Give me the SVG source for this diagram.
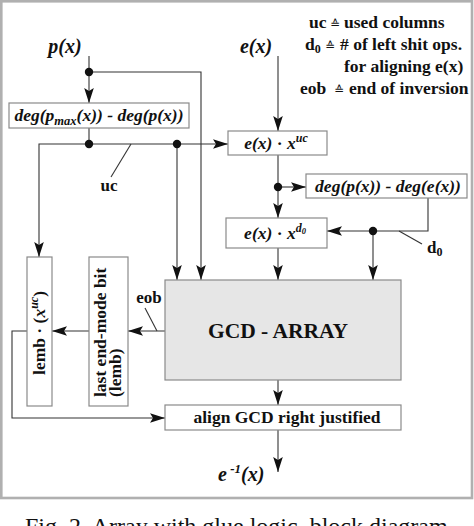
<svg xmlns="http://www.w3.org/2000/svg" width="474" height="526" viewBox="0 0 474 526">
<style>
.t{font-family:"Liberation Serif","DejaVu Serif",serif;font-weight:bold;fill:#111;}
.i{font-style:italic;}
.box{fill:#fff;stroke:#8a8a8a;stroke-width:1.2;}
.ln{fill:none;stroke:#333;stroke-width:1.1;}
.sym{font-family:"DejaVu Sans","Noto Sans",sans-serif;font-weight:normal;font-size:12px;}
</style>
<defs>
<marker id="ah" viewBox="-16 -6 17 12" refX="0" refY="0" markerWidth="17" markerHeight="12" markerUnits="userSpaceOnUse" orient="auto">
<path d="M0,0 L-15,-4.8 L-12,0 L-15,4.8 Z" fill="#111"/>
</marker>
</defs>
<rect x="0" y="0" width="474" height="526" fill="#fff"/>
<rect x="1.3" y="1.3" width="470.7" height="496.7" fill="#fff" stroke="#b0b0b0" stroke-width="2.6"/>

<g id="connectors">
<path class="ln" d="M89,56 V103" marker-end="url(#ah)"/>
<path class="ln" d="M89,72 H201 V280" marker-end="url(#ah)"/>
<path class="ln" d="M89,128 V144 H228" marker-end="url(#ah)"/>
<path class="ln" d="M89,144 H39 V257" marker-end="url(#ah)"/>
<path class="ln" d="M177,144 V280" marker-end="url(#ah)"/>
<path class="ln" d="M131,144 L111,177"/>
<path class="ln" d="M278,56 V131" marker-end="url(#ah)"/>
<path class="ln" d="M278,155 V218" marker-end="url(#ah)"/>
<path class="ln" d="M278,187 H306" marker-end="url(#ah)"/>
<path class="ln" d="M428,198 V231 H327" marker-end="url(#ah)"/>
<path class="ln" d="M373,231 V280" marker-end="url(#ah)"/>
<path class="ln" d="M399,231 L422,244"/>
<path class="ln" d="M278,248 V280" marker-end="url(#ah)"/>
<path class="ln" d="M165,331 H128" marker-end="url(#ah)"/>
<path class="ln" d="M157,331 L145,308"/>
<path class="ln" d="M89,331 H52" marker-end="url(#ah)"/>
<path class="ln" d="M27,331 H12 V418 H165" marker-end="url(#ah)"/>
<path class="ln" d="M278,380 V405" marker-end="url(#ah)"/>
<path class="ln" d="M278,430 V472" marker-end="url(#ah)"/>
<g fill="#111">
<circle cx="89" cy="72" r="4.2"/>
<circle cx="89" cy="144" r="4.2"/>
<circle cx="177" cy="144" r="4.2"/>
<circle cx="278" cy="187" r="4.2"/>
<circle cx="373" cy="231" r="4.2"/>
</g>
<text class="t" x="109" y="191" font-size="17" text-anchor="middle">uc</text>
<text class="t" x="427" y="253" font-size="17">d<tspan font-size="12" dy="3">0</tspan></text>
<text class="t" x="149" y="303" font-size="17" text-anchor="middle">eob</text>
</g>

<g id="input-p">
<text class="t i" x="65" y="53" font-size="20" text-anchor="middle">p(x)</text>
</g>
<g id="input-e">
<text class="t i" x="256" y="53" font-size="20" text-anchor="middle">e(x)</text>
</g>

<g id="legend">
<text class="t" font-size="17.5" y="28"><tspan x="309">uc</tspan><tspan class="sym" x="330">≙</tspan><tspan x="344">used columns</tspan></text>
<text class="t" font-size="17.5" y="50"><tspan x="305">d</tspan><tspan font-size="12" dy="3">0</tspan><tspan class="sym" x="325" dy="-3">≙</tspan><tspan x="340"># of left shit ops.</tspan></text>
<text class="t" font-size="17.5" y="72" x="344">for aligning e(x)</text>
<text class="t" font-size="17.5" y="94"><tspan x="300">eob</tspan><tspan class="sym" x="334">≙</tspan><tspan x="349">end of inversion</tspan></text>
</g>

<g id="node-degpmax">
<rect class="box" x="9" y="103" width="180" height="25"/>
<text class="t i" x="99" y="121" font-size="17.5" text-anchor="middle">deg(p<tspan font-size="12.5" dy="4">max</tspan><tspan dy="-4">(x)) - deg(p(x))</tspan></text>
</g>

<g id="node-exuc">
<rect class="box" x="228" y="131" width="99" height="24"/>
<text class="t i" x="276" y="149" font-size="17.5" text-anchor="middle">e(x) <tspan font-style="normal">·</tspan> x<tspan font-size="12" dy="-7">uc</tspan></text>
</g>

<g id="node-degpe">
<rect class="box" x="306" y="174" width="161" height="24"/>
<text class="t i" x="388" y="192" font-size="17.5" text-anchor="middle">deg(p(x)) - deg(e(x))</text>
</g>

<g id="node-exd0">
<rect class="box" x="226" y="218" width="101" height="30"/>
<text class="t i" x="275" y="239" font-size="17.5" text-anchor="middle">e(x) <tspan font-style="normal">·</tspan> x<tspan font-size="12" dy="-7">d</tspan><tspan font-size="8.5" dy="2">0</tspan></text>
</g>

<g id="node-gcd">
<rect x="165" y="280" width="236" height="100" fill="#e6e6e6" stroke="#8a8a8a" stroke-width="1.2"/>
<text class="t" x="278" y="338" font-size="21.5" text-anchor="middle">GCD - ARRAY</text>
</g>

<g id="node-lemb">
<rect class="box" x="27" y="257" width="25" height="149"/>
<text class="t" font-size="17.5" text-anchor="middle" transform="translate(45,333) rotate(-90)">lemb · (<tspan font-style="italic">x</tspan><tspan font-style="italic" font-size="12" dy="-7">uc</tspan><tspan dy="7">)</tspan></text>
</g>

<g id="node-lastbit">
<rect class="box" x="89" y="257" width="39" height="149"/>
<text class="t" font-size="17.5" transform="translate(106,397) rotate(-90)">last end-mode bit</text>
<text class="t" font-size="17.5" transform="translate(121,397) rotate(-90)">(lemb)</text>
</g>

<g id="node-align">
<rect class="box" x="165" y="405" width="236" height="25"/>
<text class="t" x="287" y="423" font-size="17.5" text-anchor="middle">align GCD right justified</text>
</g>

<g id="output">
<text class="t i" x="218" y="481" font-size="20">e<tspan font-size="13" dy="-8"> -1</tspan><tspan dy="8">(x)</tspan></text>
</g>

<text x="25" y="534" font-family="'Liberation Serif',serif" font-size="24" fill="#111">Fig. 2. Array with glue logic, block diagram</text>
</svg>
